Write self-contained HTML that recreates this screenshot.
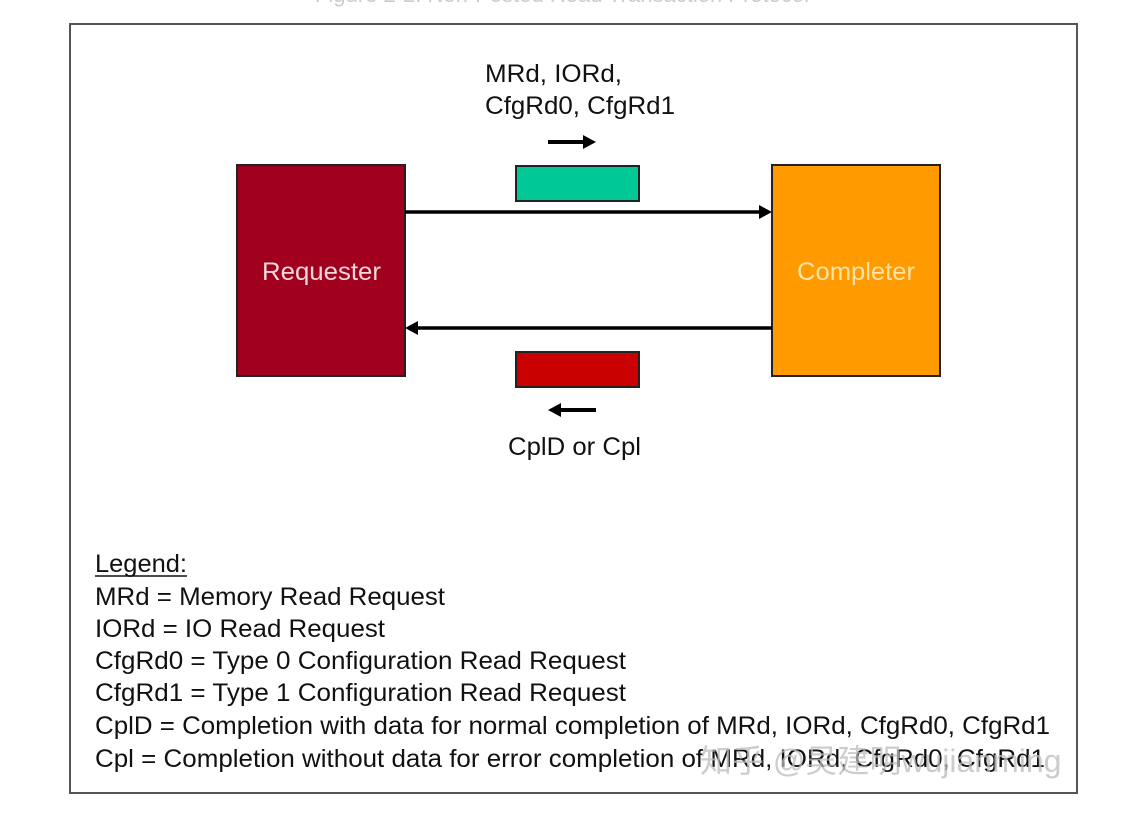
<!DOCTYPE html>
<html><head><meta charset="utf-8"><style>
html,body{margin:0;padding:0;background:#fff;}
svg{display:block;}
text{font-family:"Liberation Sans",Arial,sans-serif;}
</style></head><body>
<svg width="1125" height="813" viewBox="0 0 1125 813" xmlns="http://www.w3.org/2000/svg">
<rect width="1125" height="813" fill="#fff"/>
<text x="562" y="2" font-size="22" fill="#ccc" text-anchor="middle" font-family="Liberation Serif">Figure 2-2: Non-Posted Read Transaction Protocol</text>
<rect x="70" y="24" width="1007" height="769" fill="#fff" stroke="#555" stroke-width="2"/>
<rect x="237" y="165" width="168" height="211" fill="#a0001e" stroke="#222" stroke-width="2"/>
<text x="262" y="280" font-size="25" fill="#f4d8dc" textLength="119" lengthAdjust="spacingAndGlyphs">Requester</text>
<rect x="772" y="165" width="168" height="211" fill="#ff9a00" stroke="#222" stroke-width="2"/>
<text x="797" y="280" font-size="25" fill="#ffe3a8" textLength="118" lengthAdjust="spacingAndGlyphs">Completer</text>
<rect x="516" y="166" width="123" height="35" fill="#00c896" stroke="#222" stroke-width="2"/>
<rect x="516" y="352" width="123" height="35" fill="#c80000" stroke="#222" stroke-width="2"/>
<line x1="405" y1="212" x2="762" y2="212" stroke="#000" stroke-width="3.5"/>
<polygon points="772,212 759,205 759,219" fill="#000"/>
<line x1="415" y1="328" x2="772" y2="328" stroke="#000" stroke-width="3.5"/>
<polygon points="405,328 418,321 418,335" fill="#000"/>
<line x1="548" y1="142" x2="584" y2="142" stroke="#000" stroke-width="4"/>
<polygon points="596,142 583,135 583,149" fill="#000"/>
<line x1="560" y1="410" x2="596" y2="410" stroke="#000" stroke-width="4"/>
<polygon points="548,410 561,403 561,417" fill="#000"/>
<g font-size="25" fill="#111">
<text x="485" y="82" textLength="137" lengthAdjust="spacingAndGlyphs">MRd, IORd,</text>
<text x="485" y="114" textLength="190" lengthAdjust="spacingAndGlyphs">CfgRd0, CfgRd1</text>
<text x="508" y="455" textLength="133" lengthAdjust="spacingAndGlyphs">CplD or Cpl</text>
<text x="95" y="572" textLength="92" lengthAdjust="spacingAndGlyphs">Legend:</text>
<line x1="95" y1="576" x2="187" y2="576" stroke="#111" stroke-width="1.5"/>
<text x="95" y="605" textLength="350" lengthAdjust="spacingAndGlyphs">MRd = Memory Read Request</text>
<text x="95" y="637" textLength="290" lengthAdjust="spacingAndGlyphs">IORd = IO Read Request</text>
<text x="95" y="669" textLength="531" lengthAdjust="spacingAndGlyphs">CfgRd0 = Type 0 Configuration Read Request</text>
<text x="95" y="701" textLength="531" lengthAdjust="spacingAndGlyphs">CfgRd1 = Type 1 Configuration Read Request</text>
<text x="95" y="734" textLength="955" lengthAdjust="spacingAndGlyphs">CplD = Completion with data for normal completion of MRd, IORd, CfgRd0, CfgRd1</text>
<text x="95" y="767" textLength="950" lengthAdjust="spacingAndGlyphs">Cpl = Completion without data for error completion of MRd, IORd, CfgRd0, CfgRd1</text>
</g>
<text x="700" y="772" font-size="32" fill="#bbb" fill-opacity="0.75" font-family="Liberation Sans, Noto Sans CJK SC, sans-serif">知乎 @吴建明wujianming</text>
</svg>
</body></html>
